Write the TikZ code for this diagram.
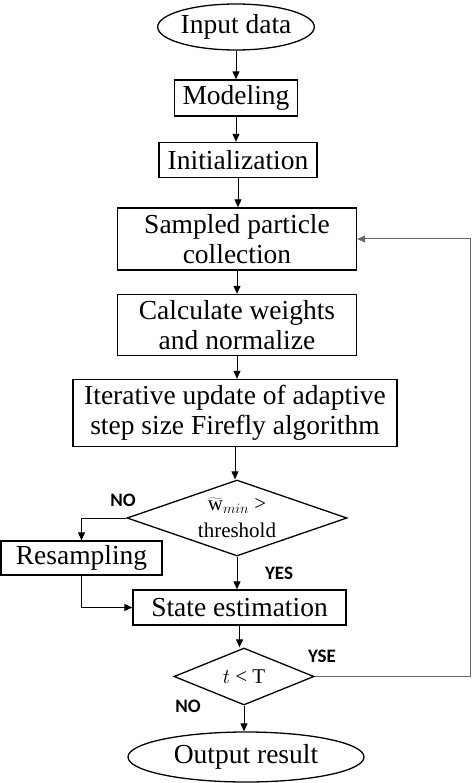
\documentclass[tikz,border=0pt]{standalone}
\usepackage{fontspec}
\setmainfont{Liberation Serif}
\newfontfamily\lblfont{Carlito}
\usetikzlibrary{arrows.meta,shapes.geometric}
\tikzset{
  >={Triangle[length=8pt,width=7pt]},
  stepbox/.style={draw,line width=1.3pt,align=center,inner sep=2pt,
    font=\fontsize{27.5}{30}\selectfont},
  term/.style={ellipse,draw,line width=1.3pt,inner sep=0pt,
    font=\fontsize{27.5}{30}\selectfont},
  decide/.style={diamond,draw,line width=1.3pt,inner sep=0pt,align=center,
    aspect=#1,font=\fontsize{21}{27}\selectfont},
  decide/.default=2.9,
  flow/.style={->,line width=1pt},
  tag/.style={font=\lblfont\bfseries\fontsize{19}{19}\selectfont},
}
\begin{document}
\begin{tikzpicture}[x=1pt,y=-1pt]
  \useasboundingbox (0,0) rectangle (474,783);
  \node[term,minimum width=141pt,minimum height=46pt] (input) at (236,27) {Input data};
  \node[stepbox,minimum width=123pt,minimum height=36pt] (model) at (236,98) {Modeling};
  \node[stepbox,minimum width=158pt,minimum height=35pt] (init) at (238,160) {Initialization};
  \node[stepbox,minimum width=239pt,minimum height=62pt] (samp) at (237,239) {Sampled particle\\collection};
  \node[stepbox,minimum width=239pt,minimum height=61pt] (calc) at (237,325) {Calculate weights\\and normalize};
  \node[stepbox,minimum width=324pt,minimum height=67pt] (iter) at (235,413) {Iterative update of adaptive\\step size Firefly algorithm};
  \node[decide,minimum width=220pt,minimum height=76pt] (wmin) at (237,518) {$\widetilde{\mathrm{w}}_{min}$ >\\threshold};
  \node[stepbox,minimum width=161pt,minimum height=34pt] (resamp) at (81.5,558) {Resampling};
  \node[stepbox,minimum width=213pt,minimum height=35pt] (state) at (239.5,607.5) {State estimation};
  \node[decide=2.45,minimum width=140pt,minimum height=57pt] (tT) at (244,676.5) {$t$ < T};
  \node[term,minimum width=236pt,minimum height=50pt] (out) at (246,757) {Output result};
  \coordinate (back) at (470,676.5);
  \node[tag] (no1) at (123,500) {NO};
  \node[tag] (yes) at (279,573) {YES};
  \node[tag] (yse) at (322,656) {YSE};
  \node[tag] (no2) at (188,706) {NO};
  \foreach \a/\b in {input/model,model/init,init/samp,samp/calc,calc/iter,iter/wmin,wmin/state,state/tT,tT/out}
    \draw[flow] (\a.south) -- (\a.south |- \b.north);
  \draw[flow] (wmin.west) -| (resamp.north);
  \draw[flow] (resamp.south) |- (state.west);
  \draw[flow,draw=black!60] (tT.east) -- (back) |- (samp.east);
\end{tikzpicture}
\end{document}
